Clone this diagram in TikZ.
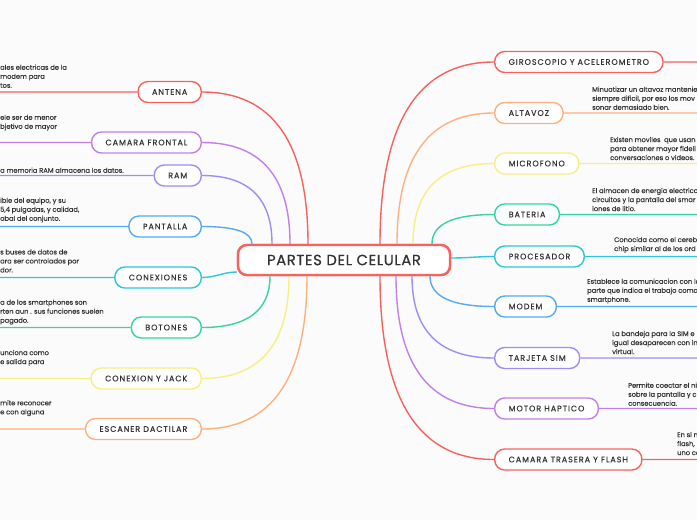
\documentclass[tikz,border=0pt]{standalone}
\usepackage{fontspec}
\setmainfont{Poppins}[FakeBold=0.25]
\newfontfamily\partfont[LetterSpace=12,FakeBold=0.4]{Poppins}
\newfontfamily\topicfont[LetterSpace=4,FakeBold=0.6]{Poppins}
\usetikzlibrary{positioning,calc}

\definecolor{pagebg}{HTML}{FBFBFB}
\definecolor{ink}{HTML}{333333}
\definecolor{cred}{HTML}{F7625F}
\definecolor{cpurple}{HTML}{C17FE8}
\definecolor{clavender}{HTML}{9D8DF7}
\definecolor{cblue}{HTML}{56A9F4}
\definecolor{ccyan}{HTML}{2CC7D8}
\definecolor{cgreen}{HTML}{37D3A0}
\definecolor{cyellow}{HTML}{F7EE84}
\definecolor{corange}{HTML}{FFB07E}

\begin{document}
\begin{tikzpicture}[
  x=1pt,y=-1pt,
  topic/.style={draw=cred,rounded corners=9pt,line width=2.4pt,fill=white,
    minimum width=212pt,minimum height=30pt,inner sep=0pt,
    font=\topicfont\fontsize{14.8}{16}\selectfont,text=ink},
  part/.style={draw,rounded corners=10pt,line width=1.4pt,fill=white,
    minimum height=21pt,inner xsep=14pt,inner ysep=0pt,
    font=\partfont\fontsize{8}{9}\selectfont,text=ink},
  desc/.style={inner sep=0pt,align=left,font=\fontsize{6.7}{9}\selectfont,text=ink},
  link/.style={line width=1.4pt}
]
  \fill[pagebg] (0,0) rectangle (697,520);
  \useasboundingbox (0,0) rectangle (697,520);
  \coordinate (lft) at (0,0);
  \coordinate (rgt) at (697,0);

  \node[topic] (c) at (344,260) {PARTES DEL CELULAR};

  % left branches
  \node[part,draw=cred,anchor=east] (antena) at (202,92) {ANTENA};
  \node[part,draw=cpurple,anchor=east] (camfront) at (202,142.5) {CAMARA FRONTAL};
  \node[part,draw=clavender,anchor=east] (ram) at (202,175.5) {RAM};
  \node[part,draw=cblue,anchor=east] (pantalla) at (202,226.5) {PANTALLA};
  \node[part,draw=ccyan,anchor=east] (conex) at (202,277.5) {CONEXIONES};
  \node[part,draw=cgreen,anchor=east] (botones) at (202,327.5) {BOTONES};
  \node[part,draw=cyellow,anchor=east] (jack) at (202,378.5) {CONEXION Y JACK};
  \node[part,draw=corange,anchor=east] (escaner) at (202,429) {ESCANER DACTILAR};

  % right branches
  \node[part,draw=cred,anchor=west] (giro) at (494,62) {GIROSCOPIO Y ACELEROMETRO};
  \node[part,draw=corange,anchor=west] (altavoz) at (494,113) {ALTAVOZ};
  \node[part,draw=cyellow,anchor=west] (micro) at (494,163.5) {MICROFONO};
  \node[part,draw=cgreen,anchor=west] (bateria) at (494,214.5) {BATERIA};
  \node[part,draw=ccyan,anchor=west] (proc) at (494,256.5) {PROCESADOR};
  \node[part,draw=cblue,anchor=west] (modem) at (494,306.5) {MODEM};
  \node[part,draw=clavender,anchor=west] (sim) at (494,358) {TARJETA SIM};
  \node[part,draw=cpurple,anchor=west] (haptico) at (494,408.5) {MOTOR HAPTICO};
  \node[part,draw=cred,anchor=west] (camtras) at (494,459.5) {CAMARA TRASERA Y FLASH};

  % descriptions
  \node[desc,anchor=south west] (d-antena) at (0,88) {ales electricas de la\\modem para\\tos.};
  \node[desc,anchor=south west] (d-camfront) at (0,130.7) {ele ser de menor\\bjetivo de mayor};
  \node[desc,anchor=south west] (d-ram) at (0,173) {a memoria RAM almacena los datos.};
  \node[desc,anchor=south west] (d-pantalla) at (0,222.7) {ible del equipo, y su\\5,4 pulgadas, y calidad,\\obal del conjunto.};
  \node[desc,anchor=south west] (d-conex) at (0,272.7) {s buses de datos de\\ara ser controlados por\\dor.};
  \node[desc,anchor=south west] (d-botones) at (0,324.7) {a de los smartphones son\\rten aun . sus funciones suelen\\pagado.};
  \node[desc,anchor=south west] (d-jack) at (0,366) {unciona como\\e salida para};
  \node[desc,anchor=south west] (d-escaner) at (0,416.3) {mite reconocer\\e con alguna};

  \node[desc,anchor=south west] (d-altavoz) at (592,110) {Minuatizar un altavoz mantenie\\siempre dificil, por eso los mov\\sonar demasiado bien.};
  \node[desc,anchor=south west] (d-micro) at (610,160.3) {Existen moviles\ \ que usan\\para obtener mayor fideli\\conversaciones o videos.};
  \node[desc,anchor=south west] (d-bateria) at (592,211.3) {El almacen de energia electrica\\circuitos y la pantalla del smar\\iones de litio.};
  \node[desc,anchor=south west] (d-proc) at (614,253) {Conocida como el cereb\\chip similar al de los ord};
  \node[desc,anchor=south west] (d-modem) at (587,303.7) {Establece la comunicacion con lo\\parte que indica el trabajo como\\smartphone.};
  \node[desc,anchor=south west] (d-sim) at (612,354.3) {La bandeja para la SIM e\\igual desaparecen con in\\virtual.};
  \node[desc,anchor=south west] (d-haptico) at (628,406) {Permite coectar el ni\\sobre la pantalla y c\\consecuencia.};
  \node[desc,anchor=south west] (d-camtras) at (677,455.3) {En si n\\flash,\\uno co};

  % connectors, left
  \draw[link,cred] ([xshift=-36pt]c.north) coordinate (s)
    .. controls ($(s)!.667!(s |- antena.east)$) and ($(antena.east)!.667!(s |- antena.east)$) .. (antena.east)
    (antena.west) -- (lft |- antena.west);
  \draw[link,cpurple] ([xshift=-54pt]c.north) coordinate (s)
    .. controls ($(s)!.667!(s |- camfront.east)$) and ($(camfront.east)!.667!(s |- camfront.east)$) .. (camfront.east)
    (camfront.west) -- (lft |- camfront.west);
  \draw[link,clavender] ([xshift=-72pt]c.north) coordinate (s)
    .. controls ($(s)!.667!(s |- ram.east)$) and ($(ram.east)!.667!(s |- ram.east)$) .. (ram.east)
    (ram.west) -- (lft |- ram.west);
  \draw[link,cblue] ([xshift=-92pt]c.north) coordinate (s)
    .. controls ($(s)!.667!(s |- pantalla.east)$) and ($(pantalla.east)!.667!(s |- pantalla.east)$) .. (pantalla.east)
    (pantalla.west) -- (lft |- pantalla.west);
  \draw[link,ccyan] ([yshift=-12pt]c.west) to[out=180,in=0] (conex.east)
    (conex.west) -- (lft |- conex.west);
  \draw[link,cgreen] ([xshift=-74pt]c.south) coordinate (s)
    .. controls ($(s)!.667!(s |- botones.east)$) and ($(botones.east)!.667!(s |- botones.east)$) .. (botones.east)
    (botones.west) -- (lft |- botones.west);
  \draw[link,cyellow] ([xshift=-55pt]c.south) coordinate (s)
    .. controls ($(s)!.667!(s |- jack.east)$) and ($(jack.east)!.667!(s |- jack.east)$) .. (jack.east)
    (jack.west) -- (lft |- jack.west);
  \draw[link,corange] ([xshift=-37pt]c.south) coordinate (s)
    .. controls ($(s)!.667!(s |- escaner.east)$) and ($(escaner.east)!.667!(s |- escaner.east)$) .. (escaner.east)
    (escaner.west) -- (lft |- escaner.west);

  % connectors, right
  \draw[link,cred] ([xshift=36pt]c.north) coordinate (s)
    .. controls ($(s)!.667!(s |- giro.west)$) and ($(giro.west)!.667!(s |- giro.west)$) .. (giro.west)
    (giro.east) -- (rgt |- giro.east);
  \draw[link,corange] ([xshift=53pt]c.north) coordinate (s)
    .. controls ($(s)!.667!(s |- altavoz.west)$) and ($(altavoz.west)!.667!(s |- altavoz.west)$) .. (altavoz.west)
    (altavoz.east) -- (rgt |- altavoz.east);
  \draw[link,cyellow] ([xshift=69pt]c.north) coordinate (s)
    .. controls ($(s)!.667!(s |- micro.west)$) and ($(micro.west)!.667!(s |- micro.west)$) .. (micro.west)
    (micro.east) -- (rgt |- micro.east);
  \draw[link,cgreen] ([xshift=88pt]c.north) coordinate (s)
    .. controls ($(s)!.667!(s |- bateria.west)$) and ($(bateria.west)!.667!(s |- bateria.west)$) .. (bateria.west)
    (bateria.east) -- (rgt |- bateria.east);
  \draw[link,ccyan] ([yshift=2pt]c.east) to[out=0,in=180] (proc.west)
    (proc.east) -- (rgt |- proc.east);
  \draw[link,cblue] ([xshift=86pt]c.south) coordinate (s)
    .. controls ($(s)!.667!(s |- modem.west)$) and ($(modem.west)!.667!(s |- modem.west)$) .. (modem.west)
    (modem.east) -- (rgt |- modem.east);
  \draw[link,clavender] ([xshift=68pt]c.south) coordinate (s)
    .. controls ($(s)!.667!(s |- sim.west)$) and ($(sim.west)!.667!(s |- sim.west)$) .. (sim.west)
    (sim.east) -- (rgt |- sim.east);
  \draw[link,cpurple] ([xshift=52pt]c.south) coordinate (s)
    .. controls ($(s)!.667!(s |- haptico.west)$) and ($(haptico.west)!.667!(s |- haptico.west)$) .. (haptico.west)
    (haptico.east) -- (rgt |- haptico.east);
  \draw[link,cred] ([xshift=36pt]c.south) coordinate (s)
    .. controls ($(s)!.667!(s |- camtras.west)$) and ($(camtras.west)!.667!(s |- camtras.west)$) .. (camtras.west)
    (camtras.east) -- (rgt |- camtras.east);

  % central node on top of the connectors
  \node[topic] at (c) {PARTES DEL CELULAR};
\end{tikzpicture}
\end{document}
